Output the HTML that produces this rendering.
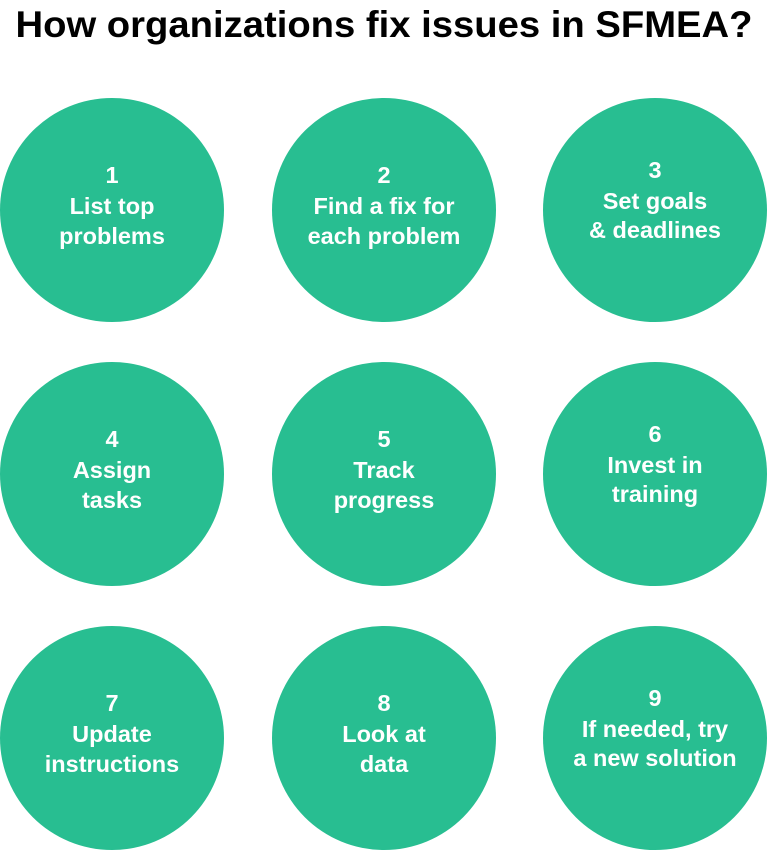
<!DOCTYPE html>
<html><head><meta charset="utf-8"><style>
html,body{margin:0;padding:0;background:#fff;}
svg{display:block;}
text{font-family:"Liberation Sans",sans-serif;font-weight:bold;}
</style></head><body>
<svg width="768" height="850" viewBox="0 0 768 850" xmlns="http://www.w3.org/2000/svg">
<text x="384" y="37" text-anchor="middle" font-size="37" textLength="737" lengthAdjust="spacingAndGlyphs" fill="#000">How organizations fix issues in SFMEA?</text>
<g fill="#28BE91">
<circle cx="112" cy="210" r="112"/><circle cx="384" cy="210" r="112"/><circle cx="655" cy="210" r="112"/>
<circle cx="112" cy="474" r="112"/><circle cx="384" cy="474" r="112"/><circle cx="655" cy="474" r="112"/>
<circle cx="112" cy="738" r="112"/><circle cx="384" cy="738" r="112"/><circle cx="655" cy="738" r="112"/>
</g>
<g fill="#fff" font-size="23.5" text-anchor="middle">
<text x="112" y="183">1</text><text x="112" y="214">List top</text><text x="112" y="244">problems</text>
<text x="384" y="183">2</text><text x="384" y="214">Find a fix for</text><text x="384" y="244">each problem</text>
<text x="655" y="178">3</text><text x="655" y="209">Set goals</text><text x="655" y="238">&amp; deadlines</text>
<text x="112" y="447">4</text><text x="112" y="478">Assign</text><text x="112" y="508">tasks</text>
<text x="384" y="447">5</text><text x="384" y="478">Track</text><text x="384" y="508">progress</text>
<text x="655" y="442">6</text><text x="655" y="473">Invest in</text><text x="655" y="502">training</text>
<text x="112" y="711">7</text><text x="112" y="742">Update</text><text x="112" y="772">instructions</text>
<text x="384" y="711">8</text><text x="384" y="742">Look at</text><text x="384" y="772">data</text>
<text x="655" y="706">9</text><text x="655" y="737">If needed, try</text><text x="655" y="766">a new solution</text>
</g>
</svg>
</body></html>
